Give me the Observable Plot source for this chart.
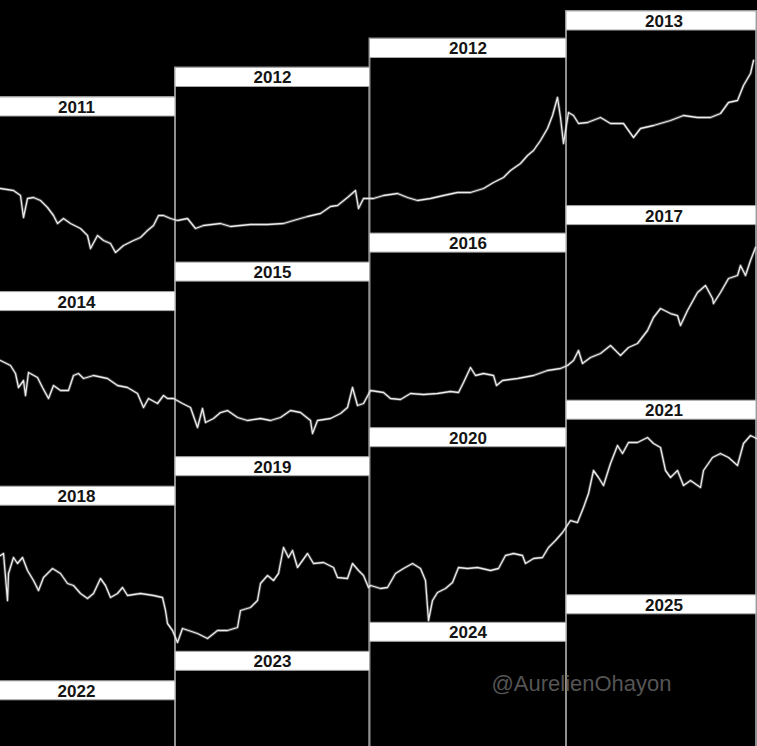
<!DOCTYPE html>
<html>
<head>
<meta charset="utf-8">
<script src="https://cdn.jsdelivr.net/npm/d3@7"></script>
<script src="https://cdn.jsdelivr.net/npm/@observablehq/plot@0.6"></script>
<style>
  html, body { margin: 0; padding: 0; background: #000; overflow: hidden; }
  #chart { width: 757px; height: 746px; }
</style>
</head>
<body>
<div id="chart"></div>
<script>
// ---- Data ----
const years = ["2011", "2012", "2012", "2013",
               "2014", "2015", "2016", "2017",
               "2018", "2019", "2020", "2021",
               "2022", "2023", "2024", "2025"];

const handle = "@AurelienOhayon";

// Row 1 (2011 → 2013): time step and index level
const row1T = [0,13,20,23,27,33,40,47,53,57,63,70,80,87,90,97,103,110,115,123,133,140,147,153,158,163,170,
  177,187,195,203,220,230,250,267,283,293,307,320,330,337,347,355,358,363,
  373,383,397,407,417,430,443,457,470,483,493,503,510,520,527,533,540,547,552,557,560,563,
  568,573,578,587,600,610,623,633,640,653,670,683,697,710,720,728,737,743,750,753];
const row1V = [558,556,551,529,548,549,546,539,531,523,528,523,518,511,498,511,506,503,494,501,506,509,516,521,531,531,528,
  526,528,518,521,523,520,522,522,523,526,530,533,540,541,549,556,538,548,
  548,551,553,549,546,548,551,554,554,558,564,569,576,583,591,596,606,618,631,649,629,603,
  634,631,623,624,629,623,623,609,618,621,626,631,629,629,633,644,646,661,673,686];

// Row 2 (2014 → 2017)
const row2T = [0,10,15,18,23,25,28,37,42,48,53,60,68,73,78,83,93,107,117,127,137,143,148,157,163,167,173,
  182,190,197,202,205,213,220,227,237,247,260,270,280,290,300,310,312,317,330,340,347,352,357,363,
  370,383,390,400,410,423,437,450,458,463,470,475,483,493,496,502,517,533,547,560,567,
  573,578,582,590,600,610,620,628,637,647,653,660,670,677,680,687,697,705,712,713,720,728,737,740,745,750,755];
const row2V = [386,381,373,359,366,351,374,369,359,348,361,356,356,371,373,368,371,368,361,359,353,339,348,343,351,348,348,
  343,339,319,338,324,328,334,336,329,326,328,326,329,336,334,326,313,326,328,333,339,359,341,343,
  356,354,348,347,353,352,353,355,354,364,379,371,373,371,361,366,368,371,376,378,381,
  386,396,383,389,393,401,391,399,403,416,429,438,433,431,421,436,454,461,448,443,454,468,471,481,471,486,499];

// Row 3 (2018 → 2021)
const row3T = [0,3,7,8,13,17,22,27,33,38,43,52,60,67,73,80,87,93,100,105,110,117,122,127,140,153,162,165,167,172,
  177,182,188,197,207,217,227,237,240,250,257,260,267,273,278,283,288,292,297,302,307,313,323,333,337,347,352,358,363,368,
  370,380,387,395,403,412,420,425,428,432,437,445,452,458,467,477,490,498,505,513,522,525,533,542,548,555,562,
  570,577,583,588,593,598,603,610,617,622,628,637,647,653,660,665,670,677,683,690,700,703,712,720,728,737,743,750,756];
const row3V = [191,193,146,173,189,183,189,176,166,156,169,178,173,163,161,153,148,153,168,161,149,153,159,151,153,151,149,136,123,116,
  104,118,116,113,108,116,116,119,136,139,146,163,171,166,173,199,189,196,179,186,193,183,184,179,169,168,183,176,171,159,
  161,158,159,173,178,183,178,166,126,146,154,158,164,179,178,179,176,178,191,193,191,183,188,189,199,206,214,
  226,224,239,253,276,269,261,283,301,293,304,304,309,303,299,276,269,276,261,266,259,276,289,293,289,281,303,311,308];

// ---- Layout ----
const W = 757, H = 746;
const colLeft  = [-21, 175, 369.5, 566];
const colRight = [175, 369.5, 566, 756];
const colCenter = [76, 272, 467.5, 663.5];
const colTop = [97, 67.5, 38.5, 11];
const rowStep = 194.6;
const headerH = 19;
const lvl = py => H - py; // pixel row -> level on the y scale

const columns = colLeft.map((x1, c) => ({x1, x2: colRight[c], y1: lvl(colTop[c]), y2: lvl(H + 20)}));
const cells = years.map((label, i) => {
  const r = Math.floor(i / 4), c = i % 4;
  const top = colTop[c] + r * rowStep;
  return {label, x1: colLeft[c], x2: colRight[c], y1: lvl(top), y2: lvl(top + headerH),
          cx: colCenter[c], cy: lvl(top + headerH / 2 + 0.5)};
});
const toRows = (T, V) => T.map((t, i) => ({t, v: V[i]}));
const rows = [toRows(row1T, row1V), toRows(row2T, row2V), toRows(row3T, row3V)];

const marks = [
  Plot.rect(columns, {x1: "x1", x2: "x2", y1: "y1", y2: "y2", fill: "#000", stroke: "#8f8f8f", strokeWidth: 2}),
  Plot.rect(cells, {x1: "x1", x2: "x2", y1: "y1", y2: "y2", fill: "#fff", stroke: "#a8a8a8", strokeWidth: 1}),
  Plot.text(cells, {x: "cx", y: "cy", text: "label", fill: "#141414", fontSize: 17, fontWeight: "bold",
    fontFamily: "Liberation Sans, Arial, sans-serif", ariaLabel: "year-label"}),
];
for (const row of rows) {
  marks.push(Plot.line(row, {x: "t", y: "v", stroke: "#bdbdbd", strokeOpacity: 0.35, strokeWidth: 3}));
  marks.push(Plot.line(row, {x: "t", y: "v", stroke: "#ececec", strokeWidth: 1.3}));
}
marks.push(Plot.text([handle], {x: () => 581, y: () => lvl(683), text: d => d, fill: "#555555",
  fontSize: 22, fontFamily: "Liberation Sans, Arial, sans-serif"}));

const svg = Plot.plot({
  width: W, height: H,
  margin: 0,
  x: {domain: [0, W], range: [0, W], axis: null},
  y: {domain: [0, H], range: [H, 0], axis: null},
  style: {background: "#000", overflow: "hidden"},
  marks
});
d3.select(svg).selectAll('g[aria-label="year-label"] text').attr("letter-spacing", "1.5px");
document.getElementById("chart").appendChild(svg);
</script>
</body>
</html>
